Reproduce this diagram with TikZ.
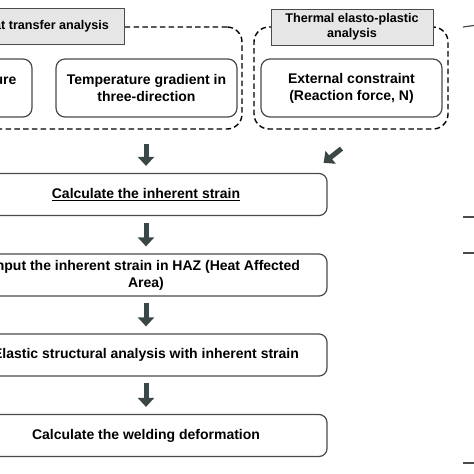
\documentclass[tikz,border=0pt]{standalone}
\usepackage{fontspec}
\setmainfont{Liberation Sans}
\usetikzlibrary{arrows.meta,calc}
\definecolor{boxgray}{HTML}{4A4A4A}
\definecolor{labelfill}{HTML}{E6E6E6}
\definecolor{arrowgray}{HTML}{3B4747}

\begin{document}
\begin{tikzpicture}[x=1pt,y=1pt,yscale=-1,xscale=1,
    every node/.style={font=\fontsize{14}{16.8}\selectfont\bfseries, align=center, inner sep=0pt},
    flowbox/.style={draw=boxgray, line width=1.2pt, rounded corners=8pt, minimum width=362pt, minimum height=42pt},
    inputbox/.style={draw=boxgray, line width=1.2pt, rounded corners=9pt, minimum width=181pt, minimum height=58pt},
    groupbox/.style={draw=black, line width=1.4pt, dash pattern=on 5.5pt off 3.3pt, rounded corners=15pt},
    tagbox/.style={draw=boxgray, line width=1pt, fill=labelfill, minimum width=162pt, minimum height=36pt, font=\fontsize{12.6}{15.1}\selectfont\bfseries},
    fatarrow/.style={draw=arrowgray, line width=5pt, -{Triangle[width=16pt,length=9pt]}}]
                \useasboundingbox (0,0) rectangle (474,474);
                \fill [white] (0,0) rectangle (474,474);
                \clip (0,0) rectangle (474,474);
                % dashed groups and their tags
                \node (heatgroup) at (21,78) [groupbox, minimum width=442pt, minimum height=102pt] {};
                \node (thermgroup) at (351,78) [groupbox, minimum width=194pt, minimum height=102pt] {};
                \node (heattag) at (43.5,26.5) [tagbox] {Heat transfer analysis};
                \node (thermtag) at (352,27) [tagbox] {Thermal elasto-plastic\\analysis};
                % input boxes
                \node (tempbox) at (-58.5,88) [inputbox] {};
                \node (temptext) at (16.5,81) [anchor=east] {Temperature};
                \node (gradbox) at (146.5,88) [inputbox] {Temperature gradient in\\three-direction};
                \node (ext) at (351.5,88) [inputbox] {External constraint\\(Reaction force, N)};
                % flow
                \node (calc) at (146,194.5) [flowbox] {\underline{Calculate the inherent strain}};
                \node (haz) at (146,275) [flowbox] {Input the inherent strain in HAZ (Heat Affected\\Area)};
                \node (elastic) at (146,355) [flowbox] {Elastic structural analysis with inherent strain};
                \node (deform) at (146,435.5) [flowbox] {Calculate the welding deformation};
                \draw [fatarrow] ($(calc.north)+(0,-29)$) -- ($(calc.north)+(0,-7)$);
                \draw [fatarrow] ($(ext.south)+(-10,31)$) -- ($(calc.north east)+(-4,-10)$);
                \draw [fatarrow] ($(calc.south)+(0,7)$) -- ($(haz.north)+(0,-7)$);
                \draw [fatarrow] ($(haz.south)+(0,6)$) -- ($(elastic.north)+(0,-7)$);
                \draw [fatarrow] ($(elastic.south)+(0,6)$) -- ($(deform.north)+(0,-7)$);
                % cut-off strokes at the right edge
                \draw [boxgray, line width=1.2pt] (463,27) -- (474,25.5);
                \draw [boxgray, line width=1.2pt] (463,217) -- (474,217);
                \draw [boxgray, line width=1.2pt] (463,253) -- (474,253);
                \draw [boxgray, line width=1.2pt] (463,463) -- (474,463);
            \end{tikzpicture}
\end{document}
